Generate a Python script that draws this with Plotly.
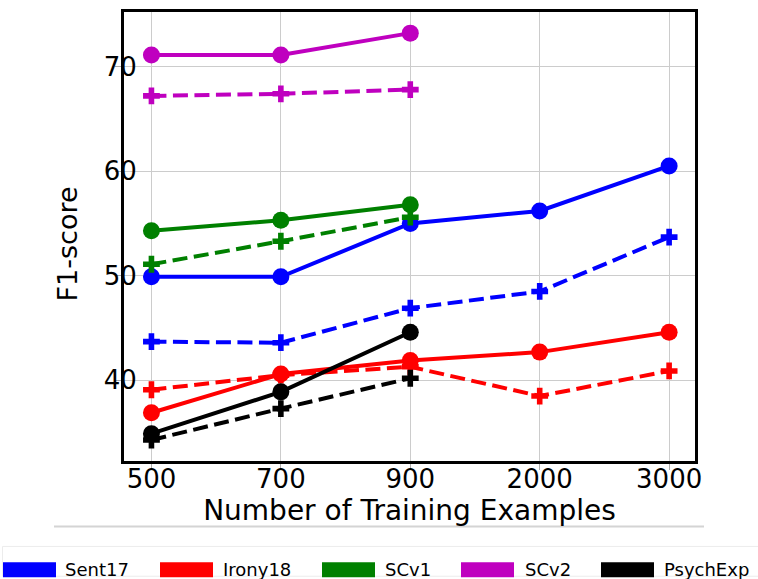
import plotly.graph_objects as go

# ---- data ----
x_labels = ["500", "700", "900", "2000", "3000"]
series_names = ["Sent17", "Irony18", "SCv1", "SCv2", "PsychExp"]
series_colors = ["#0000ff", "#ff0000", "#008000", "#bf00bf", "#000000"]

sent17_full = [49.9, 49.9, 55.0, 56.2, 60.5]
sent17_dash = [43.7, 43.6, 46.9, 48.5, 53.7]
irony18_full = [36.9, 40.6, 41.9, 42.7, 44.6]
irony18_dash = [39.1, 40.5, 41.3, 38.5, 40.9]
scv1_full = [54.3, 55.3, 56.8]
scv1_dash = [51.1, 53.3, 55.6]
scv2_full = [71.1, 71.1, 73.2]
scv2_dash = [67.2, 67.4, 67.8]
psych_full = [34.9, 38.9, 44.6]
psych_dash = [34.3, 37.3, 40.2]

solid_values = [sent17_full, irony18_full, scv1_full, scv2_full, psych_full]
dashed_values = [sent17_dash, irony18_dash, scv1_dash, scv2_dash, psych_dash]

y_ticks = [40, 50, 60, 70]
x_title = "Number of Training Examples"
y_title = "F1-score"

# ---- layout constants (pixels) ----
W, H = 758, 579
ML, MR, MT, MB = 124, 63, 9, 118
PW, PH = W - ML - MR, H - MT - MB

def px_x(p):
    return (p - ML) / PW

def px_y(p):
    return (H - MB - p) / PH

FONT = "DejaVu Sans"

fig = go.Figure()
for name, col, ys, yd in zip(series_names, series_colors, solid_values, dashed_values):
    fig.add_trace(go.Scatter(
        x=x_labels[:len(ys)], y=ys, mode="lines+markers", name=name,
        line=dict(color=col, width=4),
        marker=dict(symbol="circle", size=17, color=col),
        showlegend=False,
    ))
    fig.add_trace(go.Scatter(
        x=x_labels[:len(yd)], y=yd, mode="lines+markers", name=name,
        line=dict(color=col, width=4, dash="15px,6.5px"),
        marker=dict(symbol="cross", size=14, color=col),
        showlegend=False,
    ))

# ---- manual legend below the axes ----
patch_left = [3, 160, 322, 461, 601]
text_left = [63, 221, 383, 523, 662]
shapes = [
    dict(type="line", xref="paper", yref="paper",
         x0=px_x(54), x1=px_x(704), y0=px_y(527), y1=px_y(527),
         line=dict(color="#d4d4d4", width=2)),
    dict(type="rect", xref="paper", yref="paper",
         x0=px_x(2.5), x1=px_x(762), y0=px_y(547), y1=px_y(577),
         line=dict(color="#ececec", width=1)),
]
annotations = [
    dict(xref="paper", yref="paper", x=px_x(67), y=px_y(243), text=y_title,
         textangle=-90, showarrow=False, xanchor="center", yanchor="middle",
         font=dict(family=FONT, size=27, color="black")),
]
for name, col, pl, tl in zip(series_names, series_colors, patch_left, text_left):
    shapes.append(dict(type="rect", xref="paper", yref="paper",
                       x0=px_x(pl), x1=px_x(pl + 53), y0=px_y(578), y1=px_y(563),
                       fillcolor=col, line=dict(width=0)))
    annotations.append(dict(xref="paper", yref="paper", x=px_x(tl), y=px_y(570.5),
                            text=name, showarrow=False, xanchor="left", yanchor="middle",
                            font=dict(family=FONT, size=18, color="black")))

fig.update_layout(
    width=W, height=H,
    margin=dict(l=ML, r=MR, t=MT, b=MB),
    paper_bgcolor="white", plot_bgcolor="white",
    font=dict(family=FONT, color="black"),
    shapes=shapes, annotations=annotations,
    showlegend=False,
)
fig.update_xaxes(
    type="category", range=[-0.212, 4.2],
    showgrid=True, gridcolor="#cccccc", gridwidth=1,
    showline=True, linecolor="black", linewidth=3, mirror=True,
    ticks="outside", ticklen=6, tickcolor="#aaaaaa",
    tickfont=dict(family=FONT, size=26), ticklabelstandoff=-13,
    title=dict(text=x_title, font=dict(family=FONT, size=28), standoff=1),
    zeroline=False,
)
fig.update_yaxes(
    range=[32.29, 75.22], tickvals=y_ticks,
    showgrid=True, gridcolor="#cccccc", gridwidth=1,
    showline=True, linecolor="black", linewidth=3, mirror=True,
    ticks="outside", ticklen=6, tickcolor="#aaaaaa",
    tickfont=dict(family=FONT, size=26), ticklabelstandoff=-27,
    zeroline=False,
)

fig.write_html("out.html",
               config={"displayModeBar": False},
               post_script="document.body.style.margin='0';document.body.style.overflow='hidden';")
